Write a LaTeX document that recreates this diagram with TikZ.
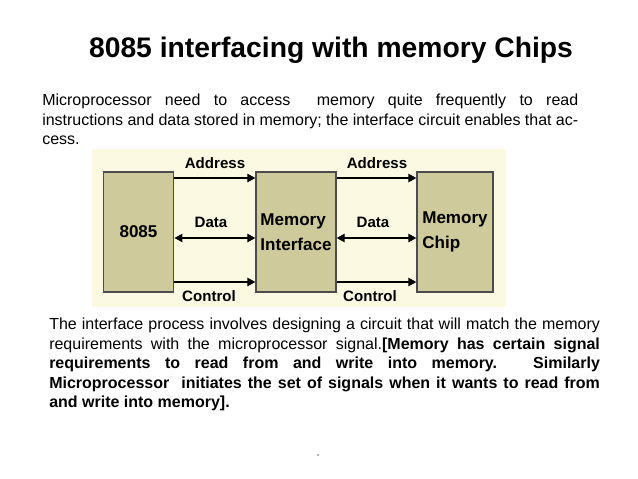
\documentclass[tikz,border=0pt]{standalone}
\usepackage{fontspec}
\setmainfont{Liberation Sans}
\usetikzlibrary{arrows.meta}
\definecolor{boxfill}{RGB}{206,202,156}
\definecolor{panel}{RGB}{251,249,226}
\begin{document}
\begin{tikzpicture}[x=0.75pt,y=-0.75pt,
  blk/.style={draw=black!70,line width=0.8pt,fill=boxfill,minimum height=90pt,inner sep=2pt,font=\bfseries\fontsize{12.8}{15}\selectfont},
  lbl/.style={font=\bfseries\fontsize{11.3}{13}\selectfont},
  bus/.style={line width=1.6pt,-{Triangle[length=6pt,width=6pt]}},
  bibus/.style={line width=1.6pt,{Triangle[length=6pt,width=6pt]}-{Triangle[length=6pt,width=6pt]}}]
\useasboundingbox (0,0) rectangle (638,478);
% title and text
\node (title) at (331,50) {\bfseries\fontsize{21.2}{25}\selectfont 8085 interfacing with memory Chips};
\node[text width=402pt,align=justify,inner sep=0pt,anchor=north west,font=\fontsize{12}{14.6}\selectfont] (p1) at (42,94)
 {Microprocessor need to access \ memory quite frequently to read\linebreak instructions and data stored in memory; the interface circuit enables that access.};
% diagram panel
\fill[panel] (92,149) rectangle (506,307);
\node[blk,minimum width=53pt] (cpu) at (138.5,232) {8085};
\node[blk,minimum width=60pt,align=left] (mif) at (296,232) {Memory\\[4pt]Interface};
\node[blk,minimum width=57pt,align=left] (chip) at (455,232) {Memory\\[4pt]Chip};
\coordinate (ya) at (0,178);
\coordinate (yd) at (0,238);
\coordinate (yc) at (0,282);
\draw[bus] (cpu.east|-ya) -- (mif.west|-ya);
\draw[bus] (mif.east|-ya) -- (chip.west|-ya);
\draw[bibus] (cpu.east|-yd) -- (mif.west|-yd);
\draw[bibus] (mif.east|-yd) -- (chip.west|-yd);
\draw[bus] (cpu.east|-yc) -- (mif.west|-yc);
\draw[bus] (mif.east|-yc) -- (chip.west|-yc);
\node[lbl] (a1) at (215,163) {Address};
\node[lbl] (a2) at (377,163) {Address};
\node[lbl] (d1) at (211,222) {Data};
\node[lbl] (d2) at (373,222) {Data};
\node[lbl] (c1) at (209,296) {Control};
\node[lbl] (c2) at (370,296) {Control};
% lower paragraph
\node[text width=413pt,align=justify,inner sep=0pt,anchor=north west,font=\fontsize{12}{14.6}\selectfont] (p2) at (49,318)
 {The interface process involves designing a circuit that will match the memory\linebreak requirements with the microprocessor signal.\textbf{[Memory has certain signal\linebreak requirements to read from and write into memory. Similarly\linebreak Microprocessor \ initiates the set of signals when it wants to read from\linebreak and write into memory].}};
\fill[black!30] (318,455) circle (1pt);
\end{tikzpicture}
\end{document}
